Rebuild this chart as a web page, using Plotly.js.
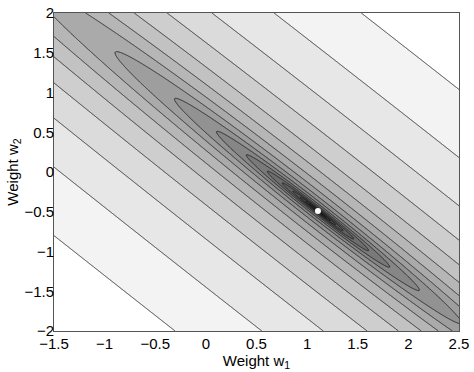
<!DOCTYPE html>
<html>
<head>
<meta charset="utf-8">
<script src="https://cdn.plot.ly/plotly-3.0.1.min.js"></script>
<style>
html,body{margin:0;padding:0;background:#fff;}
#chart{width:474px;height:372px;}
</style>
</head>
<body>
<div id="chart"></div>
<script>
// Values
var wMin = [1.107, -0.49];           // location of the error minimum (white dot)
var curvature = [1, 240];             // curvature along the long (1,-1) and short (1,1) axes
var xRange = [-1.5, 2.5];
var yRange = [-2, 2];
var xTicks = [-1.5, -1, -0.5, 0, 0.5, 1, 1.5, 2, 2.5];
var yTicks = [-2, -1.5, -1, -0.5, 0, 0.5, 1, 1.5, 2];
var levelLog2 = [-10, 10];            // contour levels are powers of two: 2^-10 ... 2^10

// Build the error surface grid the contour trace needs
var N = 561;
var xs = [], ys = [], zs = [];
for (var i = 0; i < N; i++) {
  xs.push(xRange[0] + (xRange[1] - xRange[0]) * i / (N - 1));
  ys.push(yRange[0] + (yRange[1] - yRange[0]) * i / (N - 1));
}
var r2 = Math.SQRT1_2;
for (var j = 0; j < N; j++) {
  var row = [];
  for (var k = 0; k < N; k++) {
    var dx = xs[k] - wMin[0], dy = ys[j] - wMin[1];
    var u = (dx - dy) * r2, v = (dx + dy) * r2;
    var E = curvature[0] * u * u + curvature[1] * v * v;
    row.push(Math.log2(Math.max(E, 1e-9)));
  }
  zs.push(row);
}

var contour = {
  type: 'contour',
  x: xs, y: ys, z: zs,
  autocontour: false,
  contours: {start: levelLog2[0], end: levelLog2[1], size: 1, coloring: 'fill', showlines: true},
  colorscale: [[0, '#000000'], [1, '#ffffff']],
  line: {color: '#1e1e1e', width: 0.9, smoothing: 0},
  showscale: false,
  hoverinfo: 'skip'
};

var dot = {
  type: 'scatter', mode: 'markers',
  x: [wMin[0]], y: [wMin[1]],
  marker: {color: '#ffffff', size: 6, line: {width: 0}},
  hoverinfo: 'skip'
};

var fam = 'Liberation Sans, Arial, sans-serif';
var axisCommon = {
  showline: true, mirror: true, linecolor: '#555555', linewidth: 1,
  ticks: '', showgrid: false, zeroline: false,
  tickfont: {family: fam, size: 15, color: '#000'}
};

var layout = {
  width: 474, height: 372,
  margin: {l: 54, r: 15, t: 13, b: 41},
  paper_bgcolor: '#ffffff', plot_bgcolor: '#ffffff',
  showlegend: false,
  font: {family: fam, size: 15, color: '#000'},
  xaxis: Object.assign({}, axisCommon, {
    range: xRange, tickvals: xTicks, automargin: false, ticklabelstandoff: -1,
    title: {text: 'Weight w<sub>1</sub>', font: {size: 15, family: fam}, standoff: 0}
  }),
  yaxis: Object.assign({}, axisCommon, {
    range: yRange, tickvals: yTicks, automargin: false, ticklabelstandoff: -4,
    title: {text: 'Weight w<sub>2</sub>', font: {size: 15, family: fam}, standoff: 2}
  })
};

Plotly.newPlot('chart', [contour, dot], layout, {displayModeBar: false, staticPlot: true});
</script>
</body>
</html>
